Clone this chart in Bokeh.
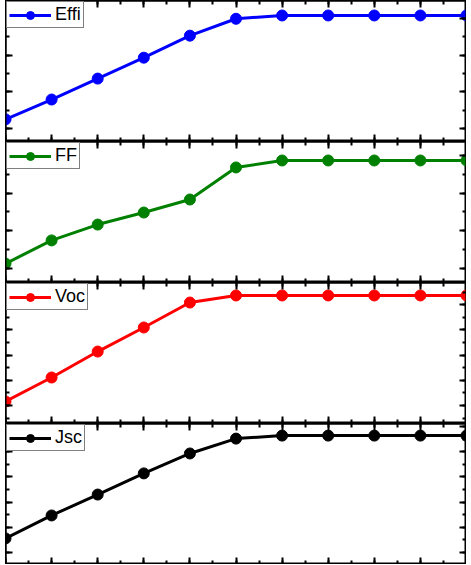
from bokeh.plotting import figure
from bokeh.layouts import column
from bokeh.models import (LinearAxis, SingleIntervalTicker, Range1d, Legend, LegendItem,
                          CustomJSTickFormatter)
from bokeh.embed import file_html
from bokeh.resources import INLINE

# ---- data ----
x = [0, 1, 2, 3, 4, 5, 6, 7, 8, 9, 10]
effi = [15.25, 15.79, 16.36, 16.93, 17.53, 17.99, 18.08, 18.08, 18.08, 18.08, 18.08]
ff = [76.26, 77.49, 78.33, 78.97, 79.66, 81.36, 81.73, 81.73, 81.73, 81.73, 81.73]
voc = [0.9032, 0.9222, 0.9428, 0.9619, 0.9817, 0.9873, 0.9873, 0.9873, 0.9873, 0.9873, 0.9873]
jsc = [20.56, 21.47, 22.30, 23.14, 23.93, 24.52, 24.64, 24.64, 24.64, 24.64, 24.64]

names = ["Effi", "FF", "Voc", "Jsc"]
series = [effi, ff, voc, jsc]
colors = ["#0000ff", "#008000", "#ff0000", "#000000"]
y_ranges = [(14.646, 18.488), (75.257, 82.737), (0.8857, 0.9976), (19.524, 25.12)]
y_major = [1.0, 2.0, 0.02, 1.0]

FRAME_W = 461
FRAME_H = 141


def style_axis(ax):
    ax.formatter = CustomJSTickFormatter(code="return '';")
    ax.major_label_text_font_size = "0px"
    ax.major_label_standoff = 0
    ax.major_tick_in = 7
    ax.major_tick_out = 0
    ax.minor_tick_in = 4
    ax.minor_tick_out = 0
    ax.axis_line_width = 2
    ax.axis_line_color = "black"
    ax.major_tick_line_width = 2
    ax.minor_tick_line_width = 2
    ax.major_tick_line_color = "black"
    ax.minor_tick_line_color = "black"


figs = []
for name, ys, col, (y0, y1), ym in zip(names, series, colors, y_ranges, y_major):
    p = figure(frame_width=FRAME_W, frame_height=FRAME_H,
               x_range=Range1d(0, 10), y_range=Range1d(y0, y1),
               output_backend="svg", toolbar_location=None,
               x_axis_location=None, y_axis_location=None,
               min_border=0)
    p.grid.visible = False
    p.outline_line_color = "black"
    p.outline_line_width = 2
    p.background_fill_color = "white"
    p.border_fill_color = "white"
    for side in ["left", "right"]:
        ax = LinearAxis(ticker=SingleIntervalTicker(interval=ym, num_minor_ticks=2))
        style_axis(ax)
        p.add_layout(ax, side)
    for side in ["above", "below"]:
        ax = LinearAxis(ticker=SingleIntervalTicker(interval=1, num_minor_ticks=2))
        style_axis(ax)
        p.add_layout(ax, side)
    r1 = p.line(x, ys, line_color=col, line_width=3)
    r2 = p.scatter(x, ys, marker="circle", size=11, fill_color=col, line_color=col)
    leg = Legend(items=[LegendItem(label=name, renderers=[r1, r2])],
                 location="top_left",
                 label_text_font="Liberation Sans", label_text_font_size="18px",
                 label_text_color="black",
                 border_line_color="black", border_line_width=1,
                 background_fill_color="white", background_fill_alpha=1,
                 glyph_width=42, glyph_height=20, label_height=20, label_standoff=4,
                 padding=2, margin=1, spacing=0)
    p.add_layout(leg)
    figs.append(p)

layout = column(*figs, spacing=0, margin=(0, 0, 0, 5))

open("out.html", "w").write(file_html(layout, INLINE))
